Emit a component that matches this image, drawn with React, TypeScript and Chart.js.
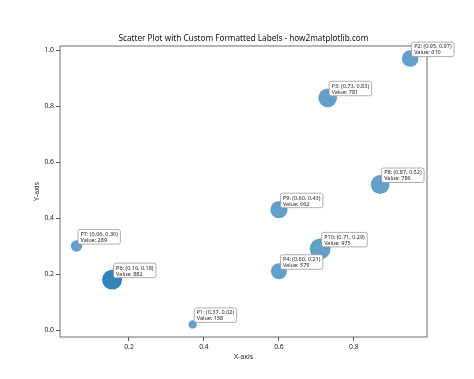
import React, { useEffect, useRef } from "react";
import { Chart, registerables } from "chart.js";

Chart.register(...registerables);

const titleText = "Scatter Plot with Custom Formatted Labels - how2matplotlib.com";
const pointNames = ["P1", "P2", "P3", "P4", "P6", "P7", "P8", "P9", "P10"];
const xValues = [0.37, 0.95, 0.73, 0.6, 0.155, 0.06, 0.87, 0.6, 0.71];
const yValues = [0.02, 0.97, 0.83, 0.21, 0.18, 0.3, 0.52, 0.43, 0.29];
const xLabels = ["0.37", "0.95", "0.73", "0.60", "0.16", "0.06", "0.87", "0.60", "0.71"];
const yLabels = ["0.02", "0.97", "0.83", "0.21", "0.18", "0.30", "0.52", "0.43", "0.29"];
const sizeValues = [158, 610, 781, 575, 882, 289, 786, 662, 975];
const xTicks = [0.2, 0.4, 0.6, 0.8];
const yTicks = [0.0, 0.2, 0.4, 0.6, 0.8, 1.0];

const FONT = "'Noto Sans', sans-serif";

const labelPlugin = {
  id: "boxLabels",
  beforeDatasetsDraw(chart: any) {
    const { left, top, right, bottom } = chart.chartArea;
    const ctx = chart.ctx;
    ctx.save();
    ctx.strokeStyle = "#6e6e6e";
    ctx.lineWidth = 1;
    ctx.strokeRect(left, top, right - left, bottom - top);
    ctx.restore();
  },
  afterDatasetsDraw(chart: any) {
    const ctx = chart.ctx;
    const meta = chart.getDatasetMeta(0);
    ctx.save();
    ctx.font = `5.5px ${FONT}`;
    meta.data.forEach((el: any, i: number) => {
      const l1 = `${pointNames[i]}: (${xLabels[i]}, ${yLabels[i]})`;
      const l2 = `Value: ${sizeValues[i]}`;
      const w = Math.max(ctx.measureText(l1).width, ctx.measureText(l2).width) + 5;
      const h = 14.5;
      const left = el.x + 1.5;
      const bottom = el.y - 2;
      const top = bottom - h;
      ctx.beginPath();
      ctx.roundRect(left, top, w, h, 2);
      ctx.fillStyle = "#ffffff";
      ctx.fill();
      ctx.strokeStyle = "#9a9a9a";
      ctx.lineWidth = 0.8;
      ctx.stroke();
      ctx.fillStyle = "#222222";
      ctx.textBaseline = "alphabetic";
      ctx.textAlign = "left";
      ctx.fillText(l1, left + 2.5, top + 6.4);
      ctx.fillText(l2, left + 2.5, top + 12.4);
    });
    ctx.restore();
  },
  afterDraw(chart: any) {
    const { left, right } = chart.chartArea;
    const ctx = chart.ctx;
    ctx.save();
    ctx.fillStyle = "#111";
    ctx.font = `8.2px ${FONT}`;
    ctx.textAlign = "center";
    ctx.textBaseline = "middle";
    ctx.fillText(titleText, (left + right) / 2, 38.5);
    ctx.restore();
  },
};

export default function App() {
  const ref = useRef<HTMLCanvasElement | null>(null);
  useEffect(() => {
    if (!ref.current) return;
    const data = xValues.map((x, i) => ({ x, y: yValues[i] }));
    const chart = new Chart(ref.current, {
      type: "scatter",
      data: {
        datasets: [
          {
            data,
            pointRadius: sizeValues.map((v) => Math.sqrt(v) * 0.335),
            pointHoverRadius: sizeValues.map((v) => Math.sqrt(v) * 0.335),
            backgroundColor: pointNames.map((n) =>
              n === "P6" ? "rgba(31,119,180,0.91)" : "rgba(31,119,180,0.7)"
            ),
            borderWidth: 0,
          },
        ],
      },
      options: {
        animation: false,
        responsive: true,
        maintainAspectRatio: false,
        layout: { padding: { left: 0, right: 47, top: 46, bottom: 0 } },
        plugins: {
          legend: { display: false },
          tooltip: { enabled: false },
          title: { display: false },
        },
        scales: {
          x: {
            type: "linear",
            min: 0.016,
            max: 0.995,
            afterFit: (s: any) => {
              s.height = 42;
            },
            afterBuildTicks: (s: any) => {
              s.ticks = xTicks.map((v) => ({ value: v }));
            },
            grid: { drawOnChartArea: false, tickLength: 4, color: "#555", tickColor: "#555" },
            border: { display: false },
            ticks: {
              color: "#222",
              font: { family: FONT, size: 6.8 },
              padding: 2,
              callback: (v: any) => Number(v).toFixed(1),
            },
            title: {
              display: true,
              text: "X-axis",
              color: "#222",
              font: { family: FONT, size: 7 },
              padding: { top: 0, bottom: 18 },
            },
          },
          y: {
            type: "linear",
            min: -0.025,
            max: 1.015,
            afterFit: (s: any) => {
              s.width = 60;
            },
            afterBuildTicks: (s: any) => {
              s.ticks = yTicks.map((v) => ({ value: v }));
            },
            grid: { drawOnChartArea: false, tickLength: 4, color: "#555", tickColor: "#555" },
            border: { display: false },
            ticks: {
              color: "#222",
              font: { family: FONT, size: 6.8 },
              padding: 2,
              callback: (v: any) => Number(v).toFixed(1),
            },
            title: {
              display: true,
              text: "Y-axis",
              color: "#222",
              font: { family: FONT, size: 7 },
              padding: { top: 33, bottom: 0 },
            },
          },
        },
      },
      plugins: [labelPlugin],
    });
    return () => chart.destroy();
  }, []);
  return (
    <div style={{ position: "fixed", left: 0, top: 0, width: 474, height: 379, background: "#fff" }}>
      <canvas ref={ref} />
    </div>
  );
}
